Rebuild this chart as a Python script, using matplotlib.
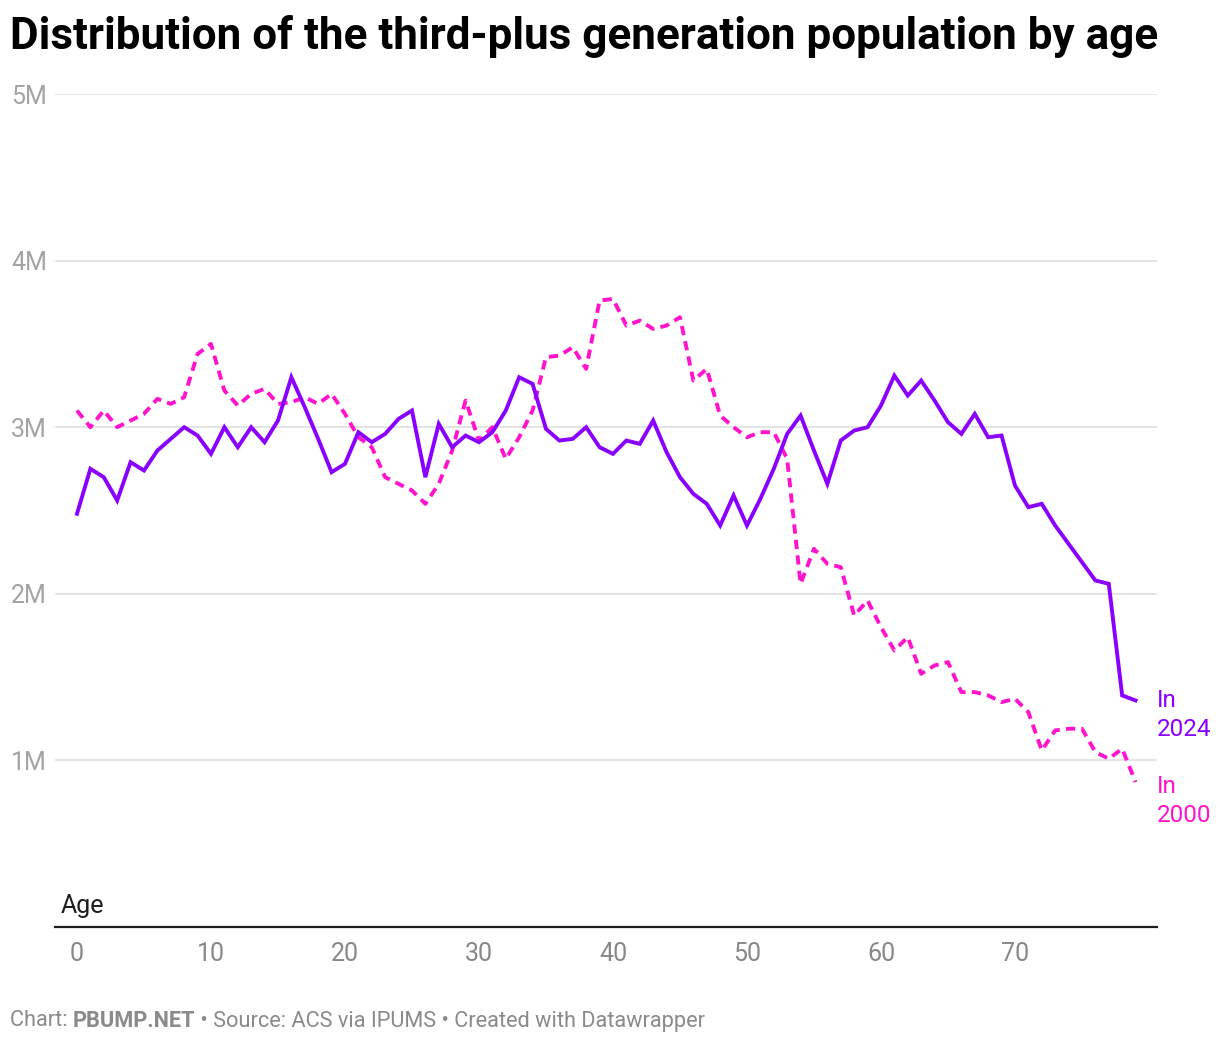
import matplotlib
matplotlib.use("Agg")
import matplotlib.pyplot as plt
import numpy as np

# ---------- Data (population in millions) ----------
ages = list(range(0, 80))

pop_2024 = [2.48, 2.75, 2.70, 2.56, 2.79, 2.74, 2.86, 2.93, 3.00, 2.95,
            2.84, 3.00, 2.88, 3.00, 2.91, 3.04, 3.30, 3.12, 2.93, 2.73,
            2.78, 2.97, 2.91, 2.96, 3.05, 3.10, 2.70, 3.02, 2.88, 2.95,
            2.91, 2.97, 3.10, 3.30, 3.26, 2.99, 2.92, 2.93, 3.00, 2.88,
            2.84, 2.92, 2.90, 3.04, 2.85, 2.70, 2.60, 2.54, 2.41, 2.59,
            2.41, 2.57, 2.75, 2.96, 3.07, 2.86, 2.66, 2.92, 2.98, 3.00,
            3.13, 3.31, 3.19, 3.28, 3.16, 3.03, 2.96, 3.08, 2.94, 2.95,
            2.65, 2.52, 2.54, 2.41, 2.30, 2.19, 2.08, 2.06, 1.39, 1.36]

pop_2000 = [3.10, 3.00, 3.10, 3.00, 3.04, 3.08, 3.17, 3.14, 3.18, 3.44,
            3.50, 3.22, 3.13, 3.20, 3.23, 3.14, 3.15, 3.18, 3.14, 3.20,
            3.08, 2.94, 2.88, 2.70, 2.66, 2.62, 2.54, 2.66, 2.86, 3.16,
            2.92, 3.00, 2.81, 2.94, 3.10, 3.42, 3.43, 3.48, 3.35, 3.76,
            3.77, 3.61, 3.64, 3.59, 3.61, 3.66, 3.28, 3.35, 3.07, 3.00,
            2.94, 2.97, 2.97, 2.81, 2.06, 2.27, 2.18, 2.16, 1.87, 1.96,
            1.80, 1.66, 1.74, 1.52, 1.57, 1.59, 1.41, 1.41, 1.39, 1.35,
            1.37, 1.29, 1.06, 1.18, 1.19, 1.19, 1.05, 1.01, 1.07, 0.87]

y_ticks = [1, 2, 3, 4, 5]
y_tick_labels = ["1M", "2M", "3M", "4M", "5M"]
x_ticks = [0, 10, 20, 30, 40, 50, 60, 70]

title = "Distribution of the third-plus generation population by age"

# ---------- Style ----------
plt.rcParams['font.family'] = ['Roboto', 'DejaVu Sans']
purple = '#8a00ff'
pink = '#ff14cc'

fig = plt.figure(figsize=(12.2, 10.44), dpi=100)
ax = fig.add_axes([55 / 1220, 1 - 927 / 1044, 1102 / 1220, 833 / 1044])

ax.plot(ages, pop_2000, color=pink, lw=2.8, dashes=(2.4, 1.6))
ax.plot(ages, pop_2024, color=purple, lw=2.8, solid_joinstyle='miter')

ax.set_xlim(-1.64, 80.6)
ax.set_ylim(0, 5)

# ---------- Grid & axes ----------
ax.set_yticks(y_ticks)
ax.set_yticklabels(y_tick_labels)
ax.tick_params(axis='y', length=0, pad=31.5, labelsize=18, labelcolor='#a3a3a3')
for lbl in ax.get_yticklabels():
    lbl.set_horizontalalignment('left')
ax.set_xticks(x_ticks)
ax.tick_params(axis='x', length=0, pad=11, labelsize=18, labelcolor='#888888')
ax.grid(axis='y', color='#e2e2e2', lw=1.3)
ax.set_axisbelow(True)
for side in ['top', 'right', 'left']:
    ax.spines[side].set_visible(False)
ax.spines['bottom'].set_color('#1d1d1d')
ax.spines['bottom'].set_linewidth(1.6)

ax.text(6 / 1102, 14 / 833, "Age", transform=ax.transAxes, fontsize=18,
        color='#1d1d1d', va='baseline', ha='left')

# ---------- End labels ----------
ax.annotate("In\n2024", xy=(ages[-1], pop_2024[-1]), xytext=(15.5, 8),
            textcoords='offset points', fontsize=17.5, color=purple,
            va='top', ha='left', linespacing=1.3)
ax.annotate("In\n2000", xy=(ages[-1], pop_2000[-1]), xytext=(15.5, 5),
            textcoords='offset points', fontsize=17.5, color=pink,
            va='top', ha='left', linespacing=1.3)

# ---------- Title ----------
fig.text(10 / 1220, 1 - 37 / 1044, title, fontsize=31.7, fontweight='bold',
         color='#000000', va='center', ha='left')

# ---------- Footer ----------
renderer = fig.canvas.get_renderer()
x_pos = 10 / 1220
y_pos = 1 - 1021 / 1044
parts = [("Chart: ", 'normal'), ("PBUMP.NET", 'bold'),
         (" \u2022 Source: ACS via IPUMS \u2022 Created with Datawrapper", 'normal')]
for txt, weight in parts:
    t = fig.text(x_pos, y_pos, txt, fontsize=15.7, fontweight=weight,
                 color='#8a8a8a', va='center', ha='left')
    bb = t.get_window_extent(renderer=renderer)
    x_pos += bb.width / fig.bbox.width

fig.savefig("out.png", dpi=100)
